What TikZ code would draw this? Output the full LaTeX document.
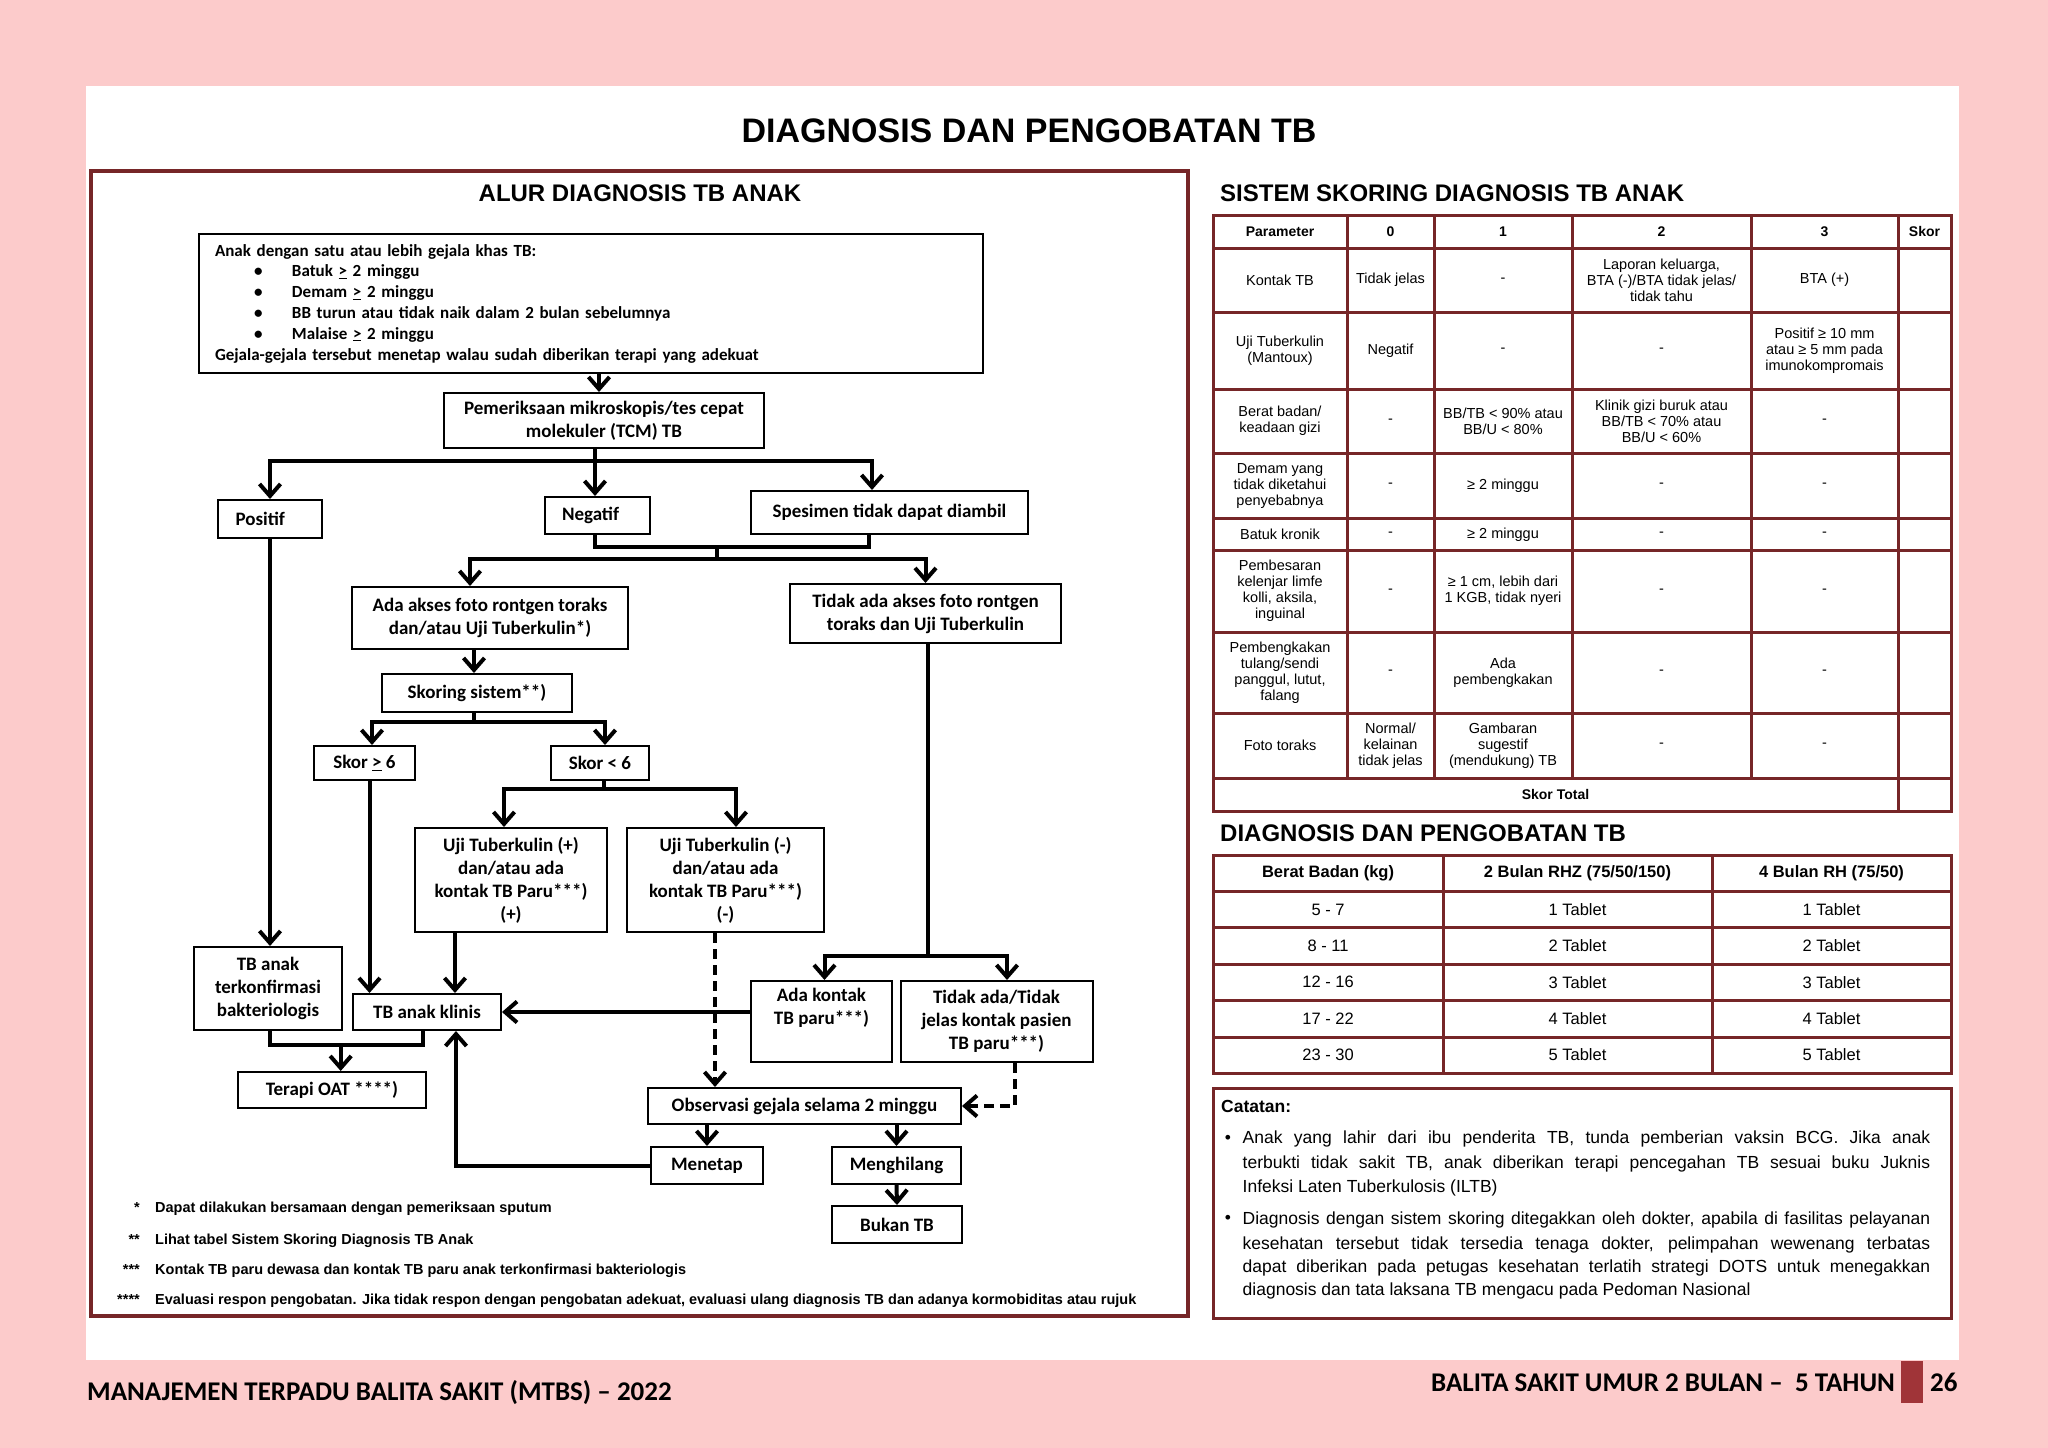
\documentclass[tikz,border=0pt]{standalone}
\usepackage{fontspec}
\setmainfont{Liberation Sans}
\newfontfamily\calib{Carlito}
\usetikzlibrary{arrows.meta}
\definecolor{pinkbg}{RGB}{252,203,203}
\definecolor{maroon}{RGB}{118,38,40}
\definecolor{pagebar}{RGB}{160,52,56}
\newcommand\fsz[2]{\fontsize{#1}{#2}\selectfont}
\begin{document}
\begin{tikzpicture}[x=1pt,y=-1pt,
 fbox/.style={draw=black, line width=2pt, fill=white, font=\calib\bfseries\fsz{19}{23}, align=center, inner sep=0pt},
 ln/.style={line width=4pt},
 arr/.style={line width=4pt, -{Straight Barb[length=12pt,width=21pt]}},
 dsh/.style={dash pattern=on 10pt off 6pt},
 grid/.style={draw=maroon, line width=3pt},
 cell/.style={font=\fsz{14.5}{16}, align=center, inner sep=0pt},
 hcell/.style={font=\bfseries\fsz{14}{16}, align=center, inner sep=0pt},
 dcell/.style={font=\fsz{16.5}{19}, align=center, inner sep=0pt},
 dhcell/.style={font=\bfseries\fsz{16.5}{19}, align=center, inner sep=0pt},
 heading/.style={font=\bfseries\fsz{24}{28}, inner sep=0pt},
 fnote/.style={font=\bfseries\fsz{14.5}{17}, inner sep=0pt, anchor=base west},
 fstar/.style={font=\bfseries\fsz{14.5}{17}, inner sep=0pt, anchor=base east},
 note/.style={font=\fsz{17.5}{21}, inner sep=0pt, anchor=base west},
 foot/.style={font=\calib\bfseries\fsz{27}{30}, inner sep=0pt}
]
\useasboundingbox (0,0) rectangle (2048,1448);
\fill[pinkbg] (0,0) rectangle (2048,1448);
\fill[white] (86,86) rectangle (1959,1360);

% titles
\node[font=\bfseries\fsz{34}{40}, inner sep=0pt] (title) at (1029,131) {DIAGNOSIS DAN PENGOBATAN TB};
\draw[draw=maroon, line width=3.5pt] (91,171) rectangle (1188,1316);
\node[heading] (alur) at (640,193) {ALUR DIAGNOSIS TB ANAK};
\node[heading, anchor=west] (skorhead) at (1220,193) {SISTEM SKORING DIAGNOSIS TB ANAK};
\node[heading, anchor=west] (diaghead) at (1220,833) {DIAGNOSIS DAN PENGOBATAN TB};

% ---------------- flowchart nodes
\node[fbox, minimum width=784pt, minimum height=139pt, text width=752pt, align=left, font=\calib\bfseries\fsz{17}{20.8}] (top) at (591,303.5)
 {Anak dengan satu atau lebih gejala khas TB:\\
 \hspace*{39pt}\makebox[38pt][l]{\textbullet}Batuk \underline{>} 2 minggu\\
 \hspace*{39pt}\makebox[38pt][l]{\textbullet}Demam \underline{>} 2 minggu\\
 \hspace*{39pt}\makebox[38pt][l]{\textbullet}BB turun atau tidak naik dalam 2 bulan sebelumnya\\
 \hspace*{39pt}\makebox[38pt][l]{\textbullet}Malaise \underline{>} 2 minggu\\
 Gejala-gejala tersebut menetap walau sudah diberikan terapi yang adekuat};
\node[fbox, minimum width=320pt, minimum height=55pt] (pem) at (604,420.5) {Pemeriksaan mikroskopis/tes cepat\\molekuler (TCM) TB};
\node[fbox, minimum width=104pt, minimum height=38pt, text width=69pt, align=left, inner xsep=17.5pt] (positif) at (270,519) {Positif};
\node[fbox, minimum width=105pt, minimum height=37pt, text width=70pt, align=left, inner xsep=17.5pt] (negatif) at (597,515.5) {Negatif};
\node[fbox, minimum width=277pt, minimum height=43pt] (spesimen) at (889.5,512.5) {Spesimen tidak dapat diambil};
\node[fbox, minimum width=276pt, minimum height=62pt] (adaakses) at (490,618) {Ada akses foto rontgen toraks\\dan/atau Uji Tuberkulin*)};
\node[fbox, minimum width=271pt, minimum height=59pt] (tidakakses) at (925.5,613.5) {Tidak ada akses foto rontgen\\toraks dan Uji Tuberkulin};
\node[fbox, minimum width=190pt, minimum height=38pt] (skoring) at (477,693) {Skoring sistem**)};
\node[fbox, minimum width=101pt, minimum height=34pt] (skorge) at (364.5,763) {Skor \underline{>} 6};
\node[fbox, minimum width=98pt, minimum height=34pt] (skorlt) at (600,763) {Skor < 6};
\node[fbox, minimum width=192pt, minimum height=104pt] (ujipos) at (511,880) {Uji Tuberkulin (+)\\dan/atau ada\\kontak TB Paru***)\\(+)};
\node[fbox, minimum width=197pt, minimum height=104pt] (ujineg) at (725.5,880) {Uji Tuberkulin (-)\\dan/atau ada\\kontak TB Paru***)\\(-)};
\node[fbox, minimum width=148pt, minimum height=83pt] (konf) at (268,988.5) {TB anak\\terkonfirmasi\\bakteriologis};
\node[fbox, minimum width=148pt, minimum height=36pt] (klinis) at (427,1012) {TB anak klinis};
\node[fbox, minimum width=141pt, minimum height=81pt] (adakontak) at (821.5,1021.5) {Ada kontak\\TB paru***)\\\strut};
\node[fbox, minimum width=192pt, minimum height=81pt] (tidakada) at (996.5,1021.5) {Tidak ada/Tidak\\jelas kontak pasien\\TB paru***)};
\node[fbox, minimum width=188pt, minimum height=36pt] (terapi) at (332,1090) {Terapi OAT ****)};
\node[fbox, minimum width=313pt, minimum height=36pt] (obs) at (804.5,1106) {Observasi gejala selama 2 minggu};
\node[fbox, minimum width=112pt, minimum height=37pt] (menetap) at (707,1165.5) {Menetap};
\node[fbox, minimum width=129pt, minimum height=37pt] (menghilang) at (896.5,1165.5) {Menghilang};
\node[fbox, minimum width=130pt, minimum height=37pt] (bukan) at (897,1224.5) {Bukan TB};

% ---------------- connectors
\draw[arr] ([xshift=-5pt]pem.north |- top.south) -- ([xshift=-5pt]pem.north);
\coordinate (j1) at (595,461);
\draw[ln] ([xshift=-9pt]pem.south) -- (j1);
\draw[arr] (j1) -| (positif.north);
\draw[arr] (j1) -- ([xshift=-2pt]negatif.north);
\draw[arr] (j1) -| ([xshift=-17.5pt]spesimen.north);
\coordinate (m1) at (717,547);
\coordinate (m2) at (717,559);
\draw[ln] ([xshift=-2pt]negatif.south) |- (m1);
\draw[ln] ([xshift=-20.5pt]spesimen.south) |- (m1);
\draw[ln] (m1) -- (m2);
\draw[arr] (m2) -| ([xshift=-20pt]adaakses.north);
\draw[arr] (m2) -| (tidakakses.north);
\draw[arr] ([xshift=-3pt]skoring.north |- adaakses.south) -- ([xshift=-3pt]skoring.north);
\coordinate (s1) at (474,722);
\draw[ln] ([xshift=-3pt]skoring.south) -- (s1);
\draw[arr] (s1) -| ([xshift=7.5pt]skorge.north);
\draw[arr] (s1) -| ([xshift=5pt]skorlt.north);
\draw[arr] ([xshift=-57.5pt]klinis.north |- skorge.south) -- ([xshift=-57.5pt]klinis.north);
\coordinate (u1) at (604,789);
\draw[ln] ([xshift=4pt]skorlt.south) -- (u1);
\draw[arr] (u1) -| ([xshift=-7pt]ujipos.north);
\draw[arr] (u1) -| ([xshift=10.5pt]ujineg.north);
\draw[arr] ([xshift=28pt]klinis.north |- ujipos.south) -- ([xshift=28pt]klinis.north);
\draw[arr,dsh] ([xshift=-89.5pt]obs.north |- ujineg.south) -- ([xshift=-89.5pt]obs.north);
\draw[arr] (positif.south) -- (positif.south |- konf.north);
\coordinate (t1) at (928,956);
\draw[ln] ([xshift=2.5pt]tidakakses.south) -- (t1);
\draw[arr] (t1) -| ([xshift=3pt]adakontak.north);
\draw[arr] (t1) -| ([xshift=10.5pt]tidakada.north);
\draw[arr] (adakontak.west |- klinis.east) -- (klinis.east);
\draw[arr,dsh] ([xshift=18.5pt]tidakada.south) |- (obs.east);
\coordinate (c1) at (340.7,1045);
\draw[ln] ([xshift=2pt]konf.south) |- (c1) -| ([xshift=-4pt]klinis.south);
\draw[arr] (c1) -- ([xshift=8.7pt]terapi.north);
\draw[arr] (obs.south -| menetap.north) -- (menetap.north);
\draw[arr] (obs.south -| menghilang.north) -- (menghilang.north);
\draw[arr] (menghilang.south) -- (bukan.north);
\draw[arr] (menetap.west) -| ([xshift=29pt]klinis.south);

% footnotes
\node[fstar] (st1) at (140,1212) {*};
\node[fnote] (fn1) at (155,1212) {Dapat dilakukan bersamaan dengan pemeriksaan sputum};
\node[fstar] (st2) at (140,1244) {**};
\node[fnote] (fn2) at (155,1244) {Lihat tabel Sistem Skoring Diagnosis TB Anak};
\node[fstar] (st3) at (140,1274) {***};
\node[fnote] (fn3) at (155,1274) {Kontak TB paru dewasa dan kontak TB paru anak terkonfirmasi bakteriologis};
\node[fstar] (st4) at (140,1304) {****};
\node[fnote] (fn4) at (155,1304) {Evaluasi respon pengobatan. Jika tidak respon dengan pengobatan adekuat, evaluasi ulang diagnosis TB dan adanya kormobiditas atau rujuk};

% ---------------- scoring table
\draw[grid] (1213,215.5) rectangle (1951,811);
\foreach \yy in {248,312,389,453,518.5,550,632,713,778} \draw[grid] (1213,\yy) -- (1951,\yy);
\foreach \xx in {1347,1434,1572,1751} \draw[grid] (\xx,215.5) -- (\xx,778);
\draw[grid] (1898,215.5) -- (1898,811);

\node[hcell] (h0) at (1280,231.75) {Parameter};
\node[hcell] (h1) at (1390.5,231.75) {0};
\node[hcell] (h2) at (1503,231.75) {1};
\node[hcell] (h3) at (1661.5,231.75) {2};
\node[hcell] (h4) at (1824.5,231.75) {3};
\node[hcell] (h5) at (1924.5,231.75) {Skor};

\node[cell] (a0) at (1280,280) {Kontak TB};
\node[cell] (a1) at (1390.5,280) {Tidak jelas};
\node[cell] (a2) at (1503,280) {-};
\node[cell] (a3) at (1661.5,280) {Laporan keluarga,\\BTA (-)/BTA tidak jelas/\\tidak tahu};
\node[cell] (a4) at (1824.5,280) {BTA (+)};

\node[cell] (b0) at (1280,350.5) {Uji Tuberkulin\\(Mantoux)};
\node[cell] (b1) at (1390.5,350.5) {Negatif};
\node[cell] (b2) at (1503,350.5) {-};
\node[cell] (b3) at (1661.5,350.5) {-};
\node[cell] (b4) at (1824.5,350.5) {Positif ≥ 10 mm\\atau ≥ 5 mm pada\\imunokompromais};

\node[cell] (c0) at (1280,421) {Berat badan/\\keadaan gizi};
\node[cell] (cc1) at (1390.5,421) {-};
\node[cell] (cc2) at (1503,421) {BB/TB < 90\% atau\\BB/U < 80\%};
\node[cell] (cc3) at (1661.5,421) {Klinik gizi buruk atau\\BB/TB < 70\% atau\\BB/U < 60\%};
\node[cell] (cc4) at (1824.5,421) {-};

\node[cell] (d0) at (1280,485.75) {Demam yang\\tidak diketahui\\penyebabnya};
\node[cell] (d1) at (1390.5,485.75) {-};
\node[cell] (d2) at (1503,485.75) {≥ 2 minggu};
\node[cell] (d3) at (1661.5,485.75) {-};
\node[cell] (d4) at (1824.5,485.75) {-};

\node[cell] (e0) at (1280,534.25) {Batuk kronik};
\node[cell] (e1) at (1390.5,534.25) {-};
\node[cell] (e2) at (1503,534.25) {≥ 2 minggu};
\node[cell] (e3) at (1661.5,534.25) {-};
\node[cell] (e4) at (1824.5,534.25) {-};

\node[cell] (f0) at (1280,591) {Pembesaran\\kelenjar limfe\\kolli, aksila,\\inguinal};
\node[cell] (f1) at (1390.5,591) {-};
\node[cell] (f2) at (1503,591) {≥ 1 cm, lebih dari\\1 KGB, tidak nyeri};
\node[cell] (f3) at (1661.5,591) {-};
\node[cell] (f4) at (1824.5,591) {-};

\node[cell] (g0) at (1280,672.5) {Pembengkakan\\tulang/sendi\\panggul, lutut,\\falang};
\node[cell] (g1) at (1390.5,672.5) {-};
\node[cell] (g2) at (1503,672.5) {Ada\\pembengkakan};
\node[cell] (g3) at (1661.5,672.5) {-};
\node[cell] (g4) at (1824.5,672.5) {-};

\node[cell] (i0) at (1280,745.5) {Foto toraks};
\node[cell] (i1) at (1390.5,745.5) {Normal/\\kelainan\\tidak jelas};
\node[cell] (i2) at (1503,745.5) {Gambaran\\sugestif\\(mendukung) TB};
\node[cell] (i3) at (1661.5,745.5) {-};
\node[cell] (i4) at (1824.5,745.5) {-};

\node[hcell] (total) at (1555.5,794.5) {Skor Total};

% ---------------- dosage table
\draw[grid] (1213,855) rectangle (1951,1073);
\foreach \yy in {891,927.5,964,1000.5,1037} \draw[grid] (1213,\yy) -- (1951,\yy);
\foreach \xx in {1443,1712} \draw[grid] (\xx,855) -- (\xx,1073);
\node[dhcell] (dh1) at (1328,873) {Berat Badan (kg)};
\node[dhcell] (dh2) at (1577.5,873) {2 Bulan RHZ (75/50/150)};
\node[dhcell] (dh3) at (1831.5,873) {4 Bulan RH (75/50)};
\foreach \rr/\tt [count=\i] in {5 - 7/1, 8 - 11/2, 12 - 16/3, 17 - 22/4, 23 - 30/5}{
  \node[dcell] (dw\i) at (1328,{873+\i*36.4}) {\rr};
  \node[dcell] (dx\i) at (1577.5,{873+\i*36.4}) {\tt\ Tablet};
  \node[dcell] (dy\i) at (1831.5,{873+\i*36.4}) {\tt\ Tablet};
}

% ---------------- catatan
\draw[grid] (1213,1088) rectangle (1951,1318);
\node[font=\bfseries\fsz{17.5}{21}, inner sep=0pt, anchor=base west] (cat) at (1221,1112) {Catatan:};
\node[font=\fsz{17.5}{21}, inner sep=0pt] (bul1) at (1228,1139) {•};
\node[font=\fsz{17.5}{21}, inner sep=0pt] (bul2) at (1228,1219) {•};
\node[note] (n1) at (1242.5,1143.3) {\makebox[687.5pt][s]{Anak yang lahir dari ibu penderita TB, tunda pemberian vaksin BCG. Jika anak}};
\node[note] (n2) at (1242.5,1168.3) {\makebox[687.5pt][s]{terbukti tidak sakit TB, anak diberikan terapi pencegahan TB sesuai buku Juknis}};
\node[note] (n3) at (1242.5,1192.3) {Infeksi Laten Tuberkulosis (ILTB)};
\node[note] (n4) at (1242.5,1224.3) {\makebox[687.5pt][s]{Diagnosis dengan sistem skoring ditegakkan oleh dokter, apabila di fasilitas pelayanan}};
\node[note] (n5) at (1242.5,1249.3) {\makebox[687.5pt][s]{kesehatan tersebut tidak tersedia tenaga dokter, pelimpahan wewenang terbatas}};
\node[note] (n6) at (1242.5,1272.3) {\makebox[687.5pt][s]{dapat diberikan pada petugas kesehatan terlatih strategi DOTS untuk menegakkan}};
\node[note] (n7) at (1242.5,1295.3) {diagnosis dan tata laksana TB mengacu pada Pedoman Nasional};

% ---------------- footer
\node[foot, anchor=base west] (fl) at (87,1400.5) {MANAJEMEN TERPADU BALITA SAKIT (MTBS) – 2022};
\node[foot, anchor=base east] (fr) at (1895,1391.5) {BALITA SAKIT UMUR 2 BULAN –\ \ 5 TAHUN};
\fill[pagebar] (1901,1361) rectangle (1923,1403);
\node[foot, anchor=base west] (pg) at (1930,1391.5) {26};
\end{tikzpicture}
\end{document}
